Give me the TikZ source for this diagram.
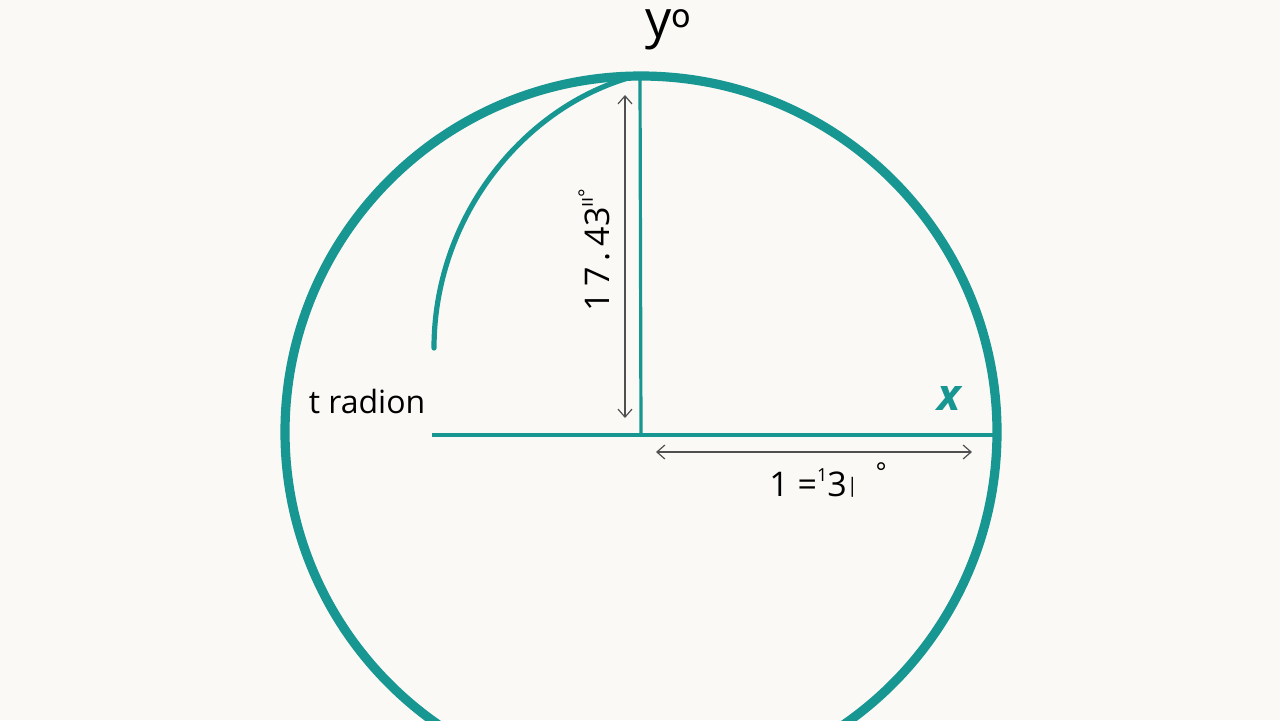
\documentclass[tikz,border=0pt]{standalone}
\usepackage{fontspec}
\setmainfont{Open Sans}
\newfontfamily\symfont{DejaVu Sans}
\usetikzlibrary{arrows.meta}
\definecolor{teal1}{RGB}{24,150,146}
\definecolor{bgc}{RGB}{250,249,246}
\definecolor{dimc}{RGB}{80,80,80}
\tikzset{
  rim/.style={draw=teal1, line width=4.6pt},
  arcline/.style={draw=teal1, line width=2.6pt, line cap=round},
  axisline/.style={draw=teal1, line width=1.6pt},
  dimline/.style={draw=dimc, line width=0.6pt, {Straight Barb[length=4pt,width=7pt]}-{Straight Barb[length=4pt,width=7pt]}},
  lbl/.style={inner sep=0pt, text=black},
}
\begin{document}
\begin{tikzpicture}[x=0.5pt,y=-0.5pt]
\useasboundingbox (0,0) rectangle (1280,720);
\clip (0,0) rectangle (1280,720);
\fill[bgc] (0,0) rectangle (1280,720);
% main circle
\coordinate (O) at (641,432);
\draw[rim] (O) circle[radius=356];
% inner arc
\coordinate (arcA) at (434,348);
\coordinate (arcB) at (628,78);
\draw[arcline] (arcA) .. controls (434,220) and (520,110) .. (arcB);
% axes
\coordinate (top) at (640,77);
\coordinate (left) at (432,435);
\coordinate (right) at (995,435);
\draw[axisline] (top) -- (O |- left);
\draw[axisline] (left) -- (right);
% dimension lines
\coordinate (v1) at (625,95);
\coordinate (v2) at (625,418);
\draw[dimline] (v1) -- (v2);
\coordinate (h1) at (656,452);
\coordinate (h2) at (972,452);
\draw[dimline] (h1) -- (h2);
% labels
\node[lbl, font=\fontsize{26}{28}\selectfont] (ylab) at (668,30) {y\raisebox{0.35ex}{\symfont\fontsize{16}{18}\selectfont o}};
\node[lbl, font=\bfseries\itshape\fontsize{22}{24}\selectfont, text=teal1] (xlab) at (949,398) {x};
\node[lbl, font=\fontsize{16}{18}\selectfont] (rlab) at (367,401) {t radion};
\node[lbl, font=\fontsize{17}{19}\selectfont, rotate=90] (vlab) at (594,250) {1\,7\,.\,43\raisebox{0.9ex}{\fontsize{10}{11}\selectfont ıı°}};
\node[lbl, font=\fontsize{17}{19}\selectfont] (hlab) at (828,480) {1 =\raisebox{0.8ex}{\fontsize{9}{10}\selectfont 1}3\raisebox{0.2ex}{\fontsize{10}{10}\selectfont |}\ \ \raisebox{0.8ex}{\fontsize{13}{13}\selectfont °}};
\end{tikzpicture}
\end{document}
